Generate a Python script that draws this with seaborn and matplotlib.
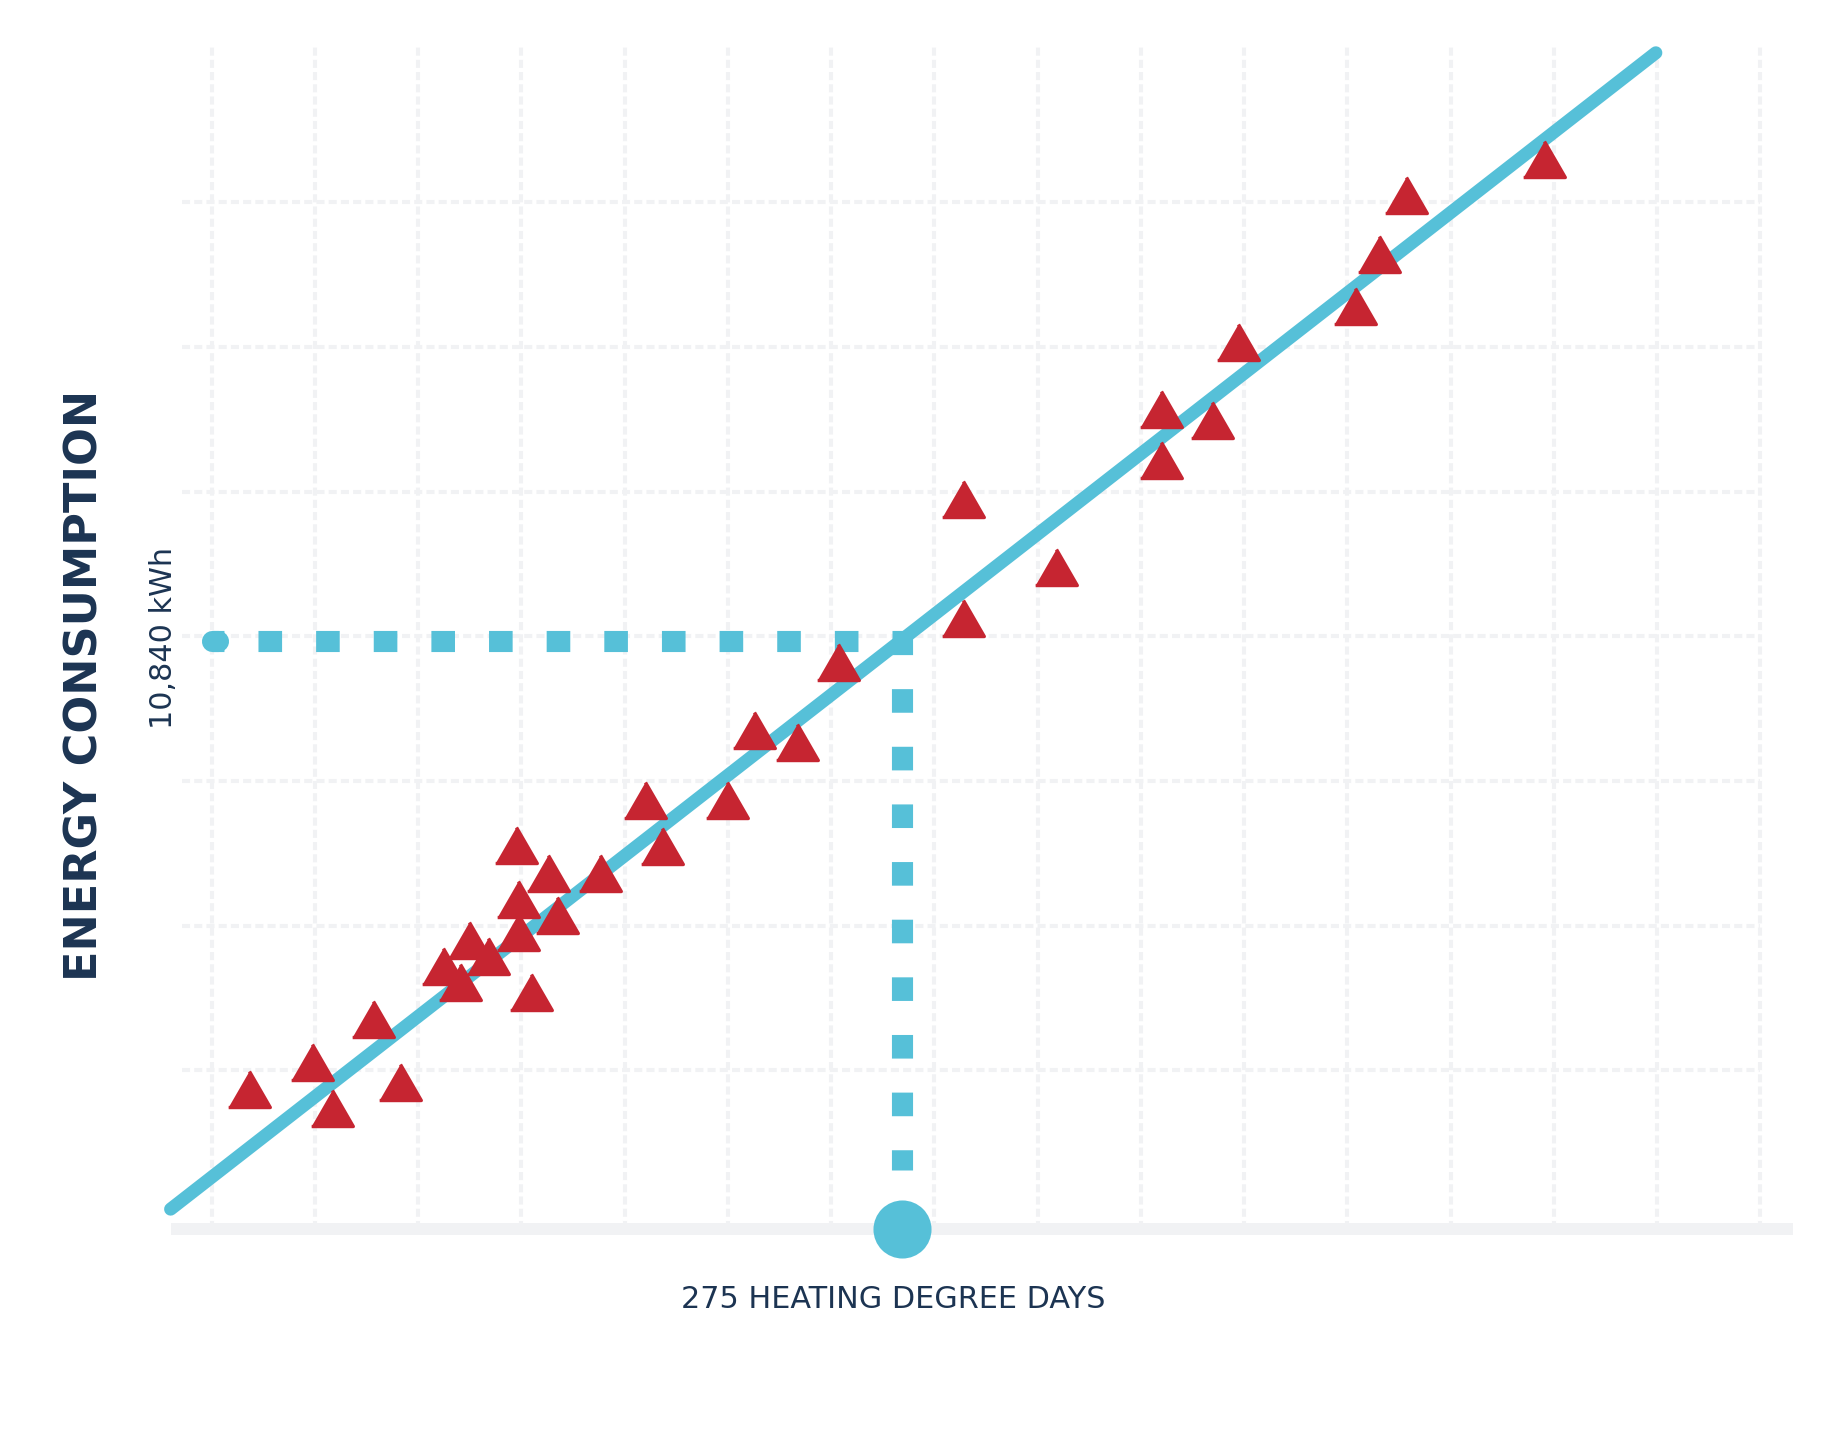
import numpy as np
import matplotlib
matplotlib.use("Agg")
import matplotlib.pyplot as plt
import seaborn as sns

# heating degree days vs energy use
hdd = [22.1, 46.2, 54.0, 69.9, 80.4, 97.3, 103.6, 107.3, 114.6, 125.5,
       126.0, 126.0, 131.4, 137.8, 141.4, 157.8, 175.2, 182.0, 207.0, 217.5,
       234.4, 250.3, 298.6, 298.6, 334.6, 375.2, 375.2, 395.2, 405.2, 450.3,
       459.9, 470.4, 523.7]
kwh = [7743, 7930, 7613, 8231, 7792, 8597, 8483, 8775, 8662, 9434,
       9060, 8832, 8414, 9239, 8950, 9239, 9743, 9426, 9743, 10223,
       10141, 10694, 11824, 11003, 11353, 12442, 12093, 12369, 12906, 13158,
       13515, 13922, 14174]

# fitted line end points
fit_hdd = [-8.4, 567.0]
fit_kwh = [6914, 14906]

# highlighted reading
mark_hdd = 275
mark_kwh = 10840

# grid
grid_x = 7.5 + 40 * np.arange(16)
grid_y = 7873 + 1000 * np.arange(7)

navy = "#1C3452"
red = "#C62531"
blue = "#56C0D8"
light = "#F1F2F4"

sns.set_theme(style="white")
plt.rcParams["font.family"] = ["DejaVu Sans"]
plt.rcParams["lines.scale_dashes"] = False

fig = plt.figure(figsize=(9.22, 7.24), dpi=200)
ax = fig.add_axes([0, 0, 1, 1])
ax.set_xlim(-74.5, 639.9)
ax.set_ylim(5263, 15271)
ax.axis("off")

base_y = 6775

# dashed grid
ax.vlines(grid_x, base_y, 14962, color=light, lw=1.45,
          linestyles=[(0, (2.9, 1.5))], zorder=1)
ax.hlines(grid_y, -3.9, 607.5, color=light, lw=1.45,
          linestyles=[(0, (2.9, 1.5))], zorder=1)

# baseline band
ax.hlines(base_y, -8.4, 620.3, color=light, lw=4.3, zorder=1)

# guide lines to the highlighted reading
guide, = ax.plot([7.5, mark_hdd, mark_hdd], [mark_kwh, mark_kwh, 7182],
                 color=blue, lw=7.6, zorder=2,
                 linestyle=(4.2, (8.5, 12.25)))
guide.set_dash_capstyle("butt")
guide.set_dash_joinstyle("miter")
# rounded start of the guide
ax.plot([7.5, 10], [mark_kwh, mark_kwh], color=blue, lw=7.6,
        solid_capstyle="round", zorder=2)

# fit line
sns.lineplot(x=fit_hdd, y=fit_kwh, color=blue, lw=4.7,
             solid_capstyle="round", ax=ax, zorder=3)

# data points
tri = [(-1, -0.866), (1, -0.866), (0, 0.866)]
sns.scatterplot(x=hdd, y=kwh, marker=tri, s=15 ** 2, color=red,
                edgecolor=red, linewidth=1.2, ax=ax, zorder=4)
ax.collections[-1].set_joinstyle("round")

# reading dot on the axis
ax.plot([mark_hdd], [base_y], "o", ms=20.9, color=blue, mew=0, zorder=5)

fig.text(0.0462, 0.5268, "ENERGY CONSUMPTION", rotation=90, ha="center",
         va="center", fontsize=16, fontweight="bold", color=navy)
fig.text(0.0886, 0.5593, "10,840 kWh", rotation=90, ha="center",
         va="center", fontsize=10.9, color=navy)
fig.text(0.4844, 0.1024, "275 HEATING DEGREE DAYS", ha="center",
         va="center", fontsize=10.9, color=navy)

fig.savefig("out.png", dpi=200, facecolor="white")
